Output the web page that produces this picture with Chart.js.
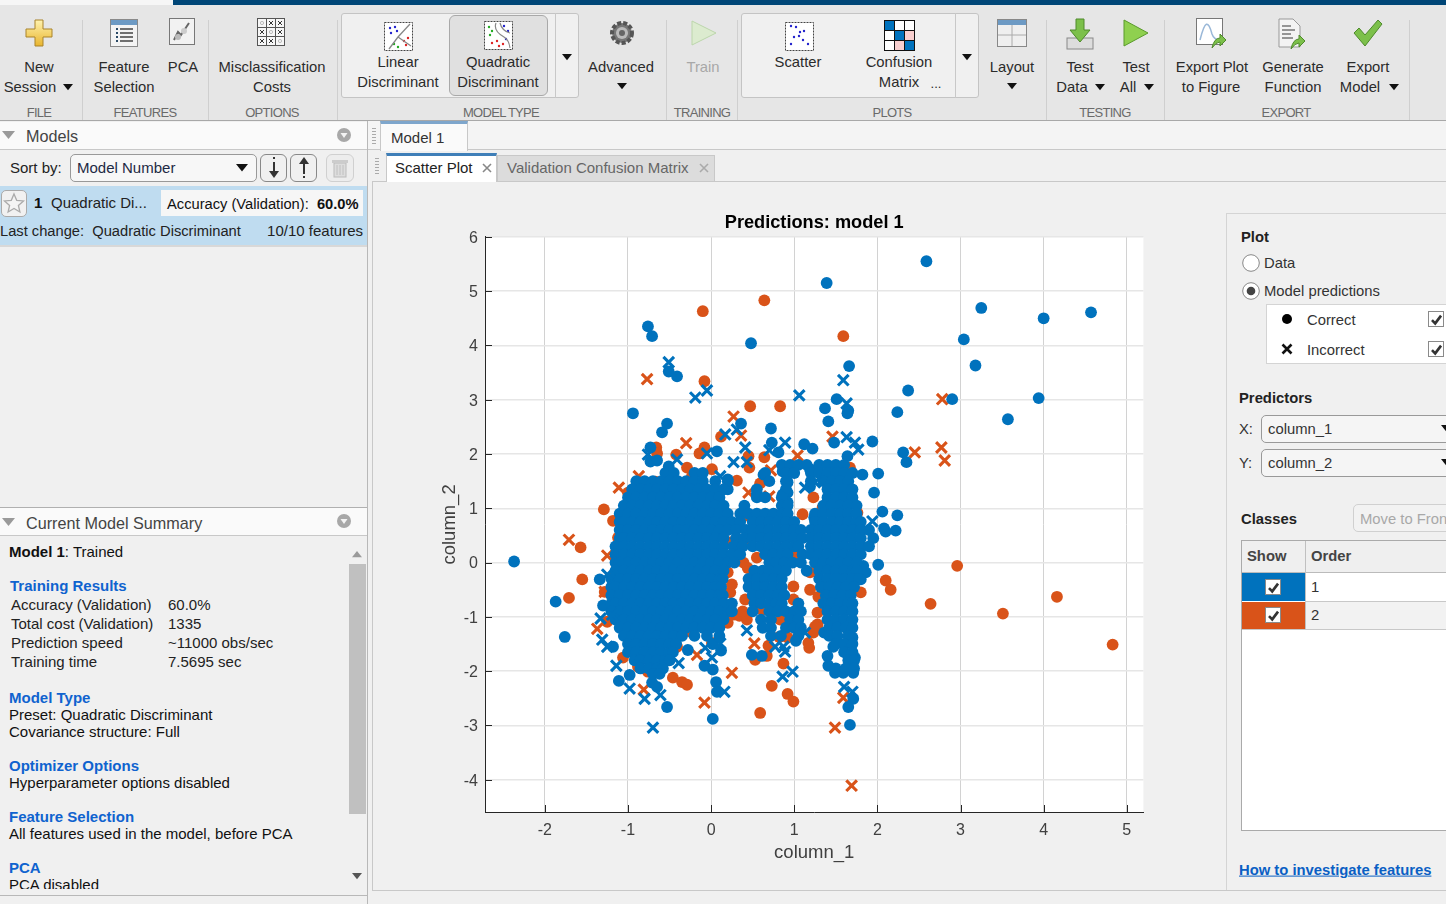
<!DOCTYPE html>
<html><head><meta charset="utf-8">
<script src="https://cdn.jsdelivr.net/npm/chart.js@4"></script>
<style>
html,body{margin:0;padding:0;width:1446px;height:904px;overflow:hidden;background:#f0f0f0;font-family:"Liberation Sans",Arial,sans-serif}
.t{position:absolute;white-space:nowrap;line-height:1}
.b{position:absolute;box-sizing:border-box}
svg{position:absolute;overflow:visible}
canvas{position:absolute;left:430px;top:205px}
</style></head><body>
<div id="ui"></div>
<canvas id="c" width="724" height="667" style="width:724px;height:667px"></canvas>
<script>
/* ---------- chart data (data units) ---------- */
const xAxisTicks=[-2,-1,0,1,2,3,4,5];
const yAxisTicks=[-4,-3,-2,-1,0,1,2,3,4,5,6];
const chartTitle="Predictions: model 1";
const xAxisLabel="column_1";
const yAxisLabel="column_2";

const class1CorrectSingles=[[2.59,5.55],[1.39,5.15],[-.76,4.35],[-.71,4.17],[.48,4.04],[3.25,4.69],[4,4.5],[4.57,4.61],[3.04,4.11],[3.18,3.63],[2.37,3.17],[3.94,3.03],[2.24,2.77],[2.9,3.01],[3.57,2.64],[-.51,3.52],[-.41,3.43],[-.94,2.75],[-.53,2.56],[-.59,2.4],[1.66,3.62],[1.51,3.01],[1.65,2.8],[1.64,2.75],[1.37,2.84],[1.41,2.6],[2.31,2.03],[2.35,1.85],[1.94,2.23],[2.01,1.64],[1.82,1.62],[1.96,1.29],[2.06,.94],[2.24,.87],[2.22,.59],[2.08,.63],[-2.37,.02],[-1.87,-.72],[-1.76,-1.37],[.36,2.56],[.72,2.47],[.73,2.21],[.07,2.05],[.81,2.03],[1.48,2.21],[1.64,1.96],[1.12,2.18],[1.22,2.1],[-.73,2.12],[-.73,1.86],[-.65,1.88],[-.51,1.77],[.2,1.53],[.2,1.35],[.63,1.62],[.55,1.27],[.86,1.68],[.92,1.48],[.92,1.29],[.86,1.25],[.92,1.11],[1.19,1.72],[1.19,1.4],[1.24,.83],[2.1,.57],[2.01,-.04],[1.83,-.06],[1.86,-.18],[1.8,-.31],[-1.34,-.31],[-1.3,-.79],[-1.18,-1.55],[-1.11,-2.18],[-.98,-2.07],[-.71,-2.21],[-.65,-2.29],[-.53,-2.66],[-.28,-1.61],[-.08,-1.9],[.02,-1.97],[.06,-2.2],[.07,-2.38],[.02,-2.88],[.12,-1.62],[.49,-1.7],[.61,-1.72],[1.02,-1.44],[1.36,-1.29],[1.4,-1.72],[1.47,-1.55],[1.41,-1.9],[1.49,-2.03],[1.59,-2.03],[1.65,-1.72],[1.7,-1.85],[1.71,-2.03],[1.73,-1.75],[1.71,-2.51],[1.65,-2.66],[1.67,-2.99],[1.7,-1.38]];

/* dense mass of class 1 points, listed row by row: [column_2, [column_1 values]] */
const class1CorrectRows=[
[1.8,[.85,.95,1.05,1.15,1.3,1.4,1.5,1.6]],
[1.65,[-.55,-.45,-.2,-.1,.65,.9,1,1.2,1.3,1.4,1.5,1.6,1.7]],
[1.5,[-.9,-.8,-.7,-.6,-.5,-.4,-.3,-.2,-.1,.05,.2,.7,.9,1.2,1.35,1.45,1.55,1.65]],
[1.35,[-.95,-.85,-.75,-.65,-.55,-.45,-.35,-.25,-.15,-.05,.05,.15,.55,.9,1.4,1.5,1.6,1.7]],
[1.2,[-1,-.9,-.8,-.7,-.6,-.5,-.4,-.3,-.2,-.1,0,.1,.55,.65,.85,1.4,1.5,1.6,1.7]],
[1.05,[-1.05,-.95,-.85,-.75,-.65,-.55,-.45,-.35,-.25,-.15,-.05,.05,.15,.4,.85,.92,1.35,1.45,1.55,1.65,1.75]],
[.9,[-1.1,-1,-.9,-.8,-.7,-.6,-.5,-.4,-.3,-.2,-.1,0,.1,.2,.35,.45,.55,.65,.75,.85,.92,1.25,1.35,1.45,1.55,1.65,1.75]],
[.75,[-1.1,-1.05,-.95,-.85,-.75,-.65,-.55,-.45,-.35,-.25,-.15,-.05,.05,.15,.25,.35,.5,.6,.7,.8,.9,1,1.25,1.35,1.45,1.55,1.65,1.75,1.8]],
[.6,[-1.1,-1,-.9,-.8,-.7,-.6,-.5,-.4,-.3,-.2,-.1,0,.1,.2,.3,.42,.5,.6,.7,.8,.9,1,1.08,1.2,1.3,1.4,1.5,1.6,1.7,1.8,1.9]],
[.45,[-1.1,-1.05,-.95,-.85,-.75,-.65,-.55,-.45,-.35,-.25,-.15,-.05,.05,.15,.3,.4,.5,.6,.7,.8,.9,1,1.1,1.2,1.3,1.4,1.5,1.6,1.7,1.8,1.95]],
[.3,[-1.15,-1.05,-.95,-.85,-.75,-.65,-.55,-.45,-.35,-.25,-.15,-.05,.05,.15,.27,.38,.5,.6,.7,.8,.9,1,1.05,1.2,1.3,1.4,1.5,1.6,1.7,1.8,1.9]],
[.15,[-1.15,-1.05,-.95,-.85,-.75,-.65,-.55,-.45,-.35,-.25,-.15,-.05,.05,.15,.25,.35,.65,.75,.85,.92,1.1,1.2,1.3,1.4,1.5,1.6,1.7,1.8]],
[0,[-1.15,-1.1,-1,-.9,-.8,-.7,-.6,-.5,-.4,-.3,-.2,-.1,0,.1,.2,.28,.7,.78,.88,.98,1.08,1.25,1.35,1.45,1.55,1.65,1.75]],
[-.15,[-1.15,-1.05,-.95,-.85,-.75,-.65,-.55,-.45,-.35,-.25,-.15,-.05,.05,.15,.52,.62,.7,.8,.9,1.15,1.3,1.4,1.5,1.6,1.7,1.75]],
[-.3,[-1.2,-1.1,-1,-.9,-.8,-.7,-.6,-.5,-.4,-.3,-.2,-.1,0,.1,.14,.45,.55,.65,.75,.85,1.3,1.4,1.5,1.6,1.7,1.78]],
[-.45,[-1.2,-1.15,-1.05,-.95,-.85,-.75,-.65,-.55,-.45,-.35,-.25,-.15,-.05,.05,.12,.45,.55,.65,.75,.85,1.32,1.42,1.52,1.62,1.72]],
[-.6,[-1.2,-1.1,-1,-.9,-.8,-.7,-.6,-.5,-.4,-.3,-.2,-.1,0,.1,.14,.5,.6,.7,.8,.88,1.38,1.48,1.58,1.68]],
[-.75,[-1.2,-1.15,-1.05,-.95,-.85,-.75,-.65,-.55,-.45,-.35,-.25,-.15,-.05,.05,.15,.25,.52,.6,.7,.78,.85,1.05,1.35,1.45,1.55,1.65,1.7]],
[-.9,[-1.2,-1.1,-1,-.9,-.8,-.7,-.6,-.5,-.4,-.3,-.2,-.1,0,.1,.2,.25,.5,.7,.8,.9,1,1.08,1.4,1.5,1.6,1.7]],
[-1.05,[-1.15,-1.05,-.95,-.85,-.75,-.65,-.55,-.45,-.35,-.25,-.15,-.05,.05,.15,.6,.72,.95,1.05,1.4,1.5,1.6,1.7]],
[-1.2,[-1.1,-1,-.9,-.8,-.7,-.6,-.5,-.4,-.3,-.2,-.1,0,.1,.62,.72,.9,1,1.08,1.42,1.52,1.62,1.7]],
[-1.35,[-1.05,-.95,-.85,-.75,-.65,-.55,-.45,-.35,-.2,-.05,.1,.72,.84,1.05,1.42,1.52,1.65]],
[-1.5,[-1,-.9,-.8,-.7,-.6,-.5,-.42,.02,1.5,1.6,1.7]],
[-1.65,[-1,-.9,-.8,-.7,-.6,-.5,-.46,1.6,1.7]],
[-1.8,[-.92,-.85,-.75,-.65,-.55,-.5,1.65,1.72]],
[-1.95,[-.85,-.75,-.65,-.58,1.5,1.62,1.72]],
[-2.05,[-.7,-.62]]
];
const class1IncorrectPoints=[[-.51,3.69],[-.19,3.04],[-.05,3.17],[1.06,3.08],[-.7,-3.04],[1.59,3.36],[1.63,2.93],[1.63,2.31],[1.73,2.21],[1.77,2.08],[.17,2.36],[.31,2.45],[.89,2.21],[.7,2.07],[.41,2.12],[.27,1.85],[.43,1.85],[-.76,1.99],[-.41,1.9],[-.05,2.01],[.11,1.59],[1.13,1.38],[1.25,1.48],[1.94,.76],[-1.25,-.22],[-1.33,-1.03],[-1.19,-.96],[-1.31,-1.42],[-1.25,-1.55],[-1.14,-1.9],[-.98,-2.32],[-.8,-2.51],[-.61,-2.44],[-.39,-1.85],[-.07,-1.57],[.01,-1.75],[.11,-1.49],[.16,-2.38],[.43,-1.25],[.77,-1.55],[.89,-1.64],[.87,-1.55],[.98,-2.01],[.86,-2.1],[1.13,-1.29],[1.6,-2.29],[1.7,-2.38]];
const class2CorrectPoints=[[-.1,4.63],[.64,4.83],[1.59,4.17],[-.08,3.34],[.47,2.88],[.83,2.88],[.12,2.32],[-.66,2.12],[-.65,2.01],[-.42,1.99],[-.08,2.12],[-.14,2.01],[.45,1.96],[.46,1.75],[.64,1.94],[1.67,1.75],[.59,1.46],[-1.29,.98],[-1.18,.77],[1.1,.89],[.31,1.51],[2.96,-.06],[2.64,-.76],[3.51,-.94],[4.16,-.63],[4.83,-1.51],[2.1,-.33],[2.16,-.5],[-1.57,.28],[-1.55,-.31],[-1.71,-.65],[-1.25,-1.09],[-.46,-2.12],[-.35,-2.2],[-.29,-2.25],[.27,-.96],[.34,-.98],[.43,-1.05],[.82,-1.37],[.92,-1.38],[.53,-1.79],[.67,-1.72],[.69,-1.53],[.87,-1.86],[.73,-2.27],[.92,-2.42],[.99,-2.56],[.59,-2.77],[1.18,-1.57],[1.17,-1.48],[1.23,-1.29],[1.28,-1.14],[.39,0],[.55,.09],[.44,-.1],[.2,-.18],[.23,-.55],[.25,-.4],[.13,-.87],[.2,-1.11],[.41,-.68],[.38,-.9],[.61,-.87],[.83,-1.05],[.99,-.44],[.99,-.68],[1.19,-.18],[1.19,-.5],[1.29,-.63],[1.28,-.92],[1.25,-1.18],[1.8,-.55],[.05,1.22],[.02,1.07],[.43,.37],[.27,.66],[.39,.85],[1.34,1.01],[1.01,.15],[1.76,.92],[-.31,1.4],[.29,.65],[.23,.37],[-1,1.29],[-1.01,.7],[-1.12,.46],[-.67,1.49],[-.29,1.75],[.01,1.72],[-.23,1.59],[-1.19,-.26],[-1.28,-.54],[-1.06,-1.75],[-.88,-1.92],[-.76,-2.01],[-.13,-.92],[.17,-.9],[-.41,-1.55],[-.25,-1.27],[.01,-1.48],[1.23,1.2]];
const class2IncorrectPoints=[[-.77,3.38],[-1.71,.42],[2.78,3.01],[2.45,2.03],[2.77,2.12],[2.81,1.88],[1.69,-4.11],[1.49,-3.04],[1.59,-2.49],[-.08,-2.58],[.27,2.69],[.36,2.34],[-.3,2.2],[1.46,2.32],[.72,1.7],[.45,1.29],[.7,1.22],[-1.11,1.38],[-.87,1.59],[-1.25,.13],[-1.28,-.54],[-1.37,-1.22],[-.81,-2.34],[-.17,-1.7],[.25,-2.03],[.52,-1.49],[1.04,1.97]];

const summaryRows=[["Accuracy (Validation)","60.0%"],["Total cost (Validation)","1335"],["Prediction speed","~11000 obs/sec"],["Training time","7.5695 sec"]];

/* ---------- chart ---------- */
const BLUE="#0072bd",ORANGE="#d95319",AXIS="#262626",TICKTXT="#404040";
const pts=a=>a.map(p=>({x:p[0],y:p[1]}));
const class1Mass=[];
class1CorrectRows.forEach(r=>r[1].forEach(x=>class1Mass.push({x:x,y:r[0]})));
const plotBackground={id:"plotBackground",beforeDraw(ch){const a=ch.chartArea;ch.ctx.save();ch.ctx.fillStyle="#fff";ch.ctx.fillRect(a.left,a.top,a.right-a.left,a.bottom-a.top);ch.ctx.restore();}};
const innerTicks={id:"innerTicks",afterDatasetsDraw(ch){
  const g=ch.ctx,a=ch.chartArea,sx=ch.scales.x,sy=ch.scales.y;
  g.save();g.strokeStyle=AXIS;g.lineWidth=1;g.beginPath();
  xAxisTicks.forEach(v=>{const p=Math.round(sx.getPixelForValue(v))+.5;g.moveTo(p,a.bottom);g.lineTo(p,a.bottom-7);});
  yAxisTicks.forEach(v=>{const p=Math.round(sy.getPixelForValue(v))+.5;g.moveTo(a.left,p);g.lineTo(a.left+7,p);});
  g.stroke();g.restore();
}};
new Chart(document.getElementById("c"),{
 type:"scatter",
 data:{datasets:[
  {label:"1 correct",data:pts(class1CorrectSingles).concat(class1Mass),pointStyle:"circle",pointRadius:5.9,backgroundColor:BLUE,borderColor:BLUE,borderWidth:0,order:1},
  {label:"1 incorrect",data:pts(class1IncorrectPoints),pointStyle:"crossRot",pointRadius:7.5,borderColor:BLUE,backgroundColor:BLUE,pointBorderWidth:3.1,order:0},
  {label:"2 correct",data:pts(class2CorrectPoints),pointStyle:"circle",pointRadius:5.9,backgroundColor:ORANGE,borderColor:ORANGE,borderWidth:0,order:3},
  {label:"2 incorrect",data:pts(class2IncorrectPoints),pointStyle:"crossRot",pointRadius:7.5,borderColor:ORANGE,backgroundColor:ORANGE,pointBorderWidth:3.1,order:2}
 ]},
 options:{responsive:false,animation:false,devicePixelRatio:1,
  layout:{padding:{left:0,right:5,top:0,bottom:0}},
  plugins:{legend:{display:false},tooltip:{enabled:false},
   title:{display:true,fullSize:false,text:chartTitle,color:"#000",font:{family:"Liberation Sans",size:18.2,weight:"bold"},padding:{top:7,bottom:3}}},
  scales:{
   x:{type:"linear",min:-2.72,max:5.2,
    afterFit(s){s.height=60;},
    afterBuildTicks(s){s.ticks=xAxisTicks.map(v=>({value:v}));},
    grid:{color:"#d2d2d2",lineWidth:1,drawTicks:false},
    border:{color:AXIS,width:1},
    ticks:{color:TICKTXT,font:{family:"Liberation Sans",size:16},padding:9,maxRotation:0,callback:v=>String(v)},
    title:{display:true,text:xAxisLabel,color:TICKTXT,font:{family:"Liberation Sans",size:18.5},padding:{top:4,bottom:8}}},
   y:{type:"linear",min:-4.594,max:6,
    afterFit(s){s.width=55;},
    afterBuildTicks(s){s.ticks=yAxisTicks.map(v=>({value:v}));},
    grid:{color:"#e6e6e6",lineWidth:1.5,drawTicks:false},
    border:{color:AXIS,width:1},
    ticks:{color:TICKTXT,font:{family:"Liberation Sans",size:16},padding:7,labelOffset:1.5,callback:v=>String(v)},
    title:{display:true,text:yAxisLabel,color:TICKTXT,font:{family:"Liberation Sans",size:18.5},padding:{top:9,bottom:0}}}
  }}
 ,plugins:[plotBackground,innerTicks]});

/* ---------- application chrome ---------- */
const ui=document.getElementById("ui");let h="";
function box(x,y,w,ht,css){h+=`<div class="b" style="left:${x}px;top:${y}px;width:${w}px;height:${ht}px;${css||""}"></div>`;}
function t(s,x,cy,o){o=o||{};const sz=o.s||14.8;const yy=sz>=15?cy-1:cy;const tr=o.a==="c"?"translate(-50%,-50%)":o.a==="r"?"translate(-100%,-50%)":"translate(0,-50%)";
 h+=`<span class="t" style="left:${x}px;top:${yy}px;transform:${tr};font-size:${sz}px;color:${o.c||"#222"};${o.b?"font-weight:bold;":""}${o.x||""}">${s}</span>`;}
function svg(x,y,w,ht,inner){h+=`<svg style="left:${x}px;top:${y}px" width="${w}" height="${ht}" viewBox="0 0 ${w} ${ht}">${inner}</svg>`;}
function tri(cx,cy,w,c,up){const s=w/2,k=w*0.62;svg(cx-s,cy-k/2,w,k,up?`<polygon points="0,${k} ${w},${k} ${s},0" fill="${c||"#111"}"/>`:`<polygon points="0,0 ${w},0 ${s},${k}" fill="${c||"#111"}"/>`);}
function check(cx,cy,s){svg(cx-s/2,cy-s/2,s,s,`<path d="M${s*.15} ${s*.55}L${s*.4} ${s*.8}L${s*.85} ${s*.2}" fill="none" stroke="#333" stroke-width="${s*.2}"/>`);}
function cbox(cx,cy){box(cx-8,cy-8,16,16,"background:#fff;border:1px solid #8a8a8a");check(cx,cy,13);}

/* ribbon */
box(0,0,1446,120,"background:#e6e6e6");
box(0,0,173,5,"background:#f6f6f6");
box(173,0,1273,5,"background:#004677");
box(0,120,1446,1,"background:#a8a8a8");
[82,208,337,666,737,1046,1164,1409].forEach(x=>box(x,20,1,100,"background:#cfcfcf"));
box(341,13,238,85,"background:#f0f0f0;border:1px solid #c4c4c4;border-radius:3px");
box(555,13,1,85,"background:#c8c8c8");
box(449,15,99,81,"background:#e0e0e0;border:1px solid #a9a9a9;border-radius:6px");
box(741,13,238,85,"background:#f0f0f0;border:1px solid #c4c4c4;border-radius:3px");
box(955,13,1,85,"background:#c8c8c8");
tri(567,57,10);tri(967,57,10);
const RC="#2b2b2b",RG="#6a6a6a";
t("New",39,67,{a:"c",c:RC});t("Session",30,87,{a:"c",c:RC});tri(68,87,10);
t("Feature",124,67,{a:"c",c:RC});t("Selection",124,87,{a:"c",c:RC});t("PCA",183,67,{a:"c",c:RC});
t("Misclassification",272,67,{a:"c",c:RC});t("Costs",272,87,{a:"c",c:RC});
t("Linear",398,62,{a:"c",c:RC});t("Discriminant",398,82,{a:"c",c:RC});
t("Quadratic",498,62,{a:"c",c:RC});t("Discriminant",498,82,{a:"c",c:RC});
t("Advanced",621,67,{a:"c",c:RC});tri(622,86,10);
t("Train",703,67,{a:"c",c:"#a8a8a8"});
t("Scatter",798,62,{a:"c",c:RC});t("Confusion",899,62,{a:"c",c:RC});t("Matrix",899,82,{a:"c",c:RC});t("...",936,83,{a:"c",c:RC,s:13});
t("Layout",1012,67,{a:"c",c:RC});tri(1012,86,10);
t("Test",1080,67,{a:"c",c:RC});t("Data",1072,87,{a:"c",c:RC});tri(1100,87,10);
t("Test",1136,67,{a:"c",c:RC});t("All",1128,87,{a:"c",c:RC});tri(1149,87,10);
t("Export Plot",1212,67,{a:"c",c:RC});t("to Figure",1211,87,{a:"c",c:RC});
t("Generate",1293,67,{a:"c",c:RC});t("Function",1293,87,{a:"c",c:RC});
t("Export",1368,67,{a:"c",c:RC});t("Model",1360,87,{a:"c",c:RC});tri(1394,87,10);
[["FILE",39],["FEATURES",145],["OPTIONS",272],["MODEL TYPE",501],["TRAINING",702],["PLOTS",892],["TESTING",1105],["EXPORT",1286]].forEach(p=>t(p[0],p[1],112,{a:"c",c:RG,s:13,x:"letter-spacing:-.7px;"}));

/* ribbon icons */
svg(25,19,28,28,`<defs><linearGradient id="gy" x1="0" y1="0" x2="0" y2="1"><stop offset="0" stop-color="#fff3b0"/><stop offset="1" stop-color="#e9b52e"/></linearGradient></defs><path d="M10 1h8v9h9v8h-9v9h-8v-9H1v-8h9z" fill="url(#gy)" stroke="#a9832a"/>`);
svg(110,19,28,28,`<rect x=".5" y=".5" width="27" height="27" fill="#f4f4f4" stroke="#8a8a8a"/><rect x="1" y="1" width="26" height="5" fill="#6d9ac4"/><path d="M6 10h2M6 14h2M6 18h2M6 22h2" stroke="#2b4a66" stroke-width="2"/><path d="M10 10h13M10 14h13M10 18h13M10 22h13" stroke="#444" stroke-width="1.6"/>`);
svg(169,18,26,27,`<rect x=".5" y=".5" width="25" height="26" fill="#f2f2f2" stroke="#777"/><path d="M5 22L9 14L12 17L20 5" fill="none" stroke="#666" stroke-width="2"/><circle cx="9" cy="19" r="3" fill="#bbb"/><circle cx="15" cy="13" r="3" fill="#ccc"/>`);
{let g='';for(let i=0;i<3;i++)for(let j=0;j<3;j++){g+=`<rect x="${.5+i*9}" y="${.5+j*9}" width="9" height="9" fill="#f6f6f6" stroke="#555"/>`+(i===j?`<circle cx="${5+i*9}" cy="${5+j*9}" r="1.6" fill="none" stroke="#bbb"/>`:`<path d="M${3+i*9} ${3+j*9}l4 4m0 -4l-4 4" stroke="#333"/>`);}svg(257,18,28,28,g);}
function disc(x,y,dots,extra){let g=`<rect x=".5" y=".5" width="28" height="28" fill="#fff" stroke="#444" stroke-dasharray="2 1"/>`;dots.forEach(d=>g+=`<circle cx="${d[0]}" cy="${d[1]}" r="1.2" fill="${d[2]}"/>`);svg(x,y,29,29,g+extra);}
disc(384,22,[[6,6,"#22c"],[11,5,"#22c"],[7,11,"#22c"],[13,9,"#22c"],[20,19,"#d22"],[24,16,"#d22"],[22,23,"#d22"],[10,22,"#2a2"],[14,25,"#2a2"]],`<path d="M26 2L14 15L5 27M14 15L27 24" fill="none" stroke="#888" stroke-width="1.3"/>`);
disc(484,21,[[5,6,"#2a2"],[8,10,"#2a2"],[6,14,"#2a2"],[20,5,"#22c"],[24,10,"#22c"],[22,18,"#22c"],[8,22,"#d22"],[13,20,"#d22"],[15,25,"#d22"],[19,23,"#d22"]],`<path d="M12 2Q9 10 20 16Q25 19 26 27M16 2Q18 10 26 12" fill="none" stroke="#888" stroke-width="1.2"/>`);
svg(608,19,28,28,`<circle cx="14" cy="14" r="10" fill="#777" stroke="#555" stroke-width="4" stroke-dasharray="4 2"/><circle cx="14" cy="14" r="6" fill="#bbb"/><circle cx="14" cy="14" r="3" fill="#666"/>`);
svg(691,20,26,26,`<polygon points="1,1 25,13 1,25" fill="#dcebcf" stroke="#bcd6ab"/>`);
disc(785,22,[[6,4,"#22c"],[11,5,"#22c"],[15,10,"#22c"],[19,9,"#22c"],[14,14,"#22c"],[18,18,"#22c"],[6,22,"#22c"],[23,22,"#22c"],[9,15,"#22c"]],'');
{const c=["#0072bd","#fff","#fff","#fff","#0072bd","#f8cfcf","#fff","#f8cfcf","#0072bd"];let g='';c.forEach((f,i)=>g+=`<rect x="${.5+(i%3)*10}" y="${.5+Math.floor(i/3)*10}" width="10" height="10" fill="${f}" stroke="#111"/>`);svg(884,20,31,31,g);}
svg(997,19,30,28,`<rect x=".5" y=".5" width="29" height="27" fill="#efefef" stroke="#888"/><rect x="1" y="1" width="28" height="5" fill="#6d9ac4"/><path d="M15 6v21M1 16h28" stroke="#aaa"/>`);
svg(1066,18,28,32,`<rect x="1" y="20" width="26" height="11" fill="#ddd" stroke="#888"/><path d="M10 1h8v11h6L14 24L4 12h6z" fill="#7cc04a" stroke="#4e8a2b"/>`);
svg(1123,19,26,28,`<polygon points="1,1 25,14 1,27" fill="#8fd04f" stroke="#5a9a2c"/>`);
svg(1196,18,30,32,`<rect x=".5" y=".5" width="26" height="26" fill="#fff" stroke="#777"/><path d="M4 22C9 2 12 2 16 16Q18 22 24 22" fill="none" stroke="#9ab8d8" stroke-width="1.5"/><path d="M16 30Q18 20 24 20v-4l6 6l-6 6v-4q-4 0-8 6z" fill="#7cc04a" stroke="#4e8a2b"/>`);
svg(1278,18,30,32,`<path d="M1 1h14l7 7v21H1z" fill="#f3f3f3" stroke="#999"/><path d="M4 8h9M4 12h13M4 16h9M4 20h11" stroke="#777" stroke-width="1.5"/><path d="M13 31Q15 21 21 21v-4l6 6l-6 6v-4q-4 0-8 6z" fill="#7cc04a" stroke="#4e8a2b"/>`);
svg(1353,19,30,28,`<path d="M1 14L6 9L12 16L25 1L29 5L12 27z" fill="#7cc04a" stroke="#4e8a2b"/>`);

/* left column */
const LS=15;
box(0,121,368,783,"background:#f0f0f0");
box(367,121,1,783,"background:#b8b8b8");
box(0,122,367,28,"background:#fafafa");box(0,149,367,1,"background:#c8c8c8");
tri(8,135,13,"#9a9a9a");
t("Models",26,137,{s:16.2,c:"#444"});
function grayDot(cx,cy){svg(cx-7,cy-7,14,14,`<circle cx="7" cy="7" r="7" fill="#a8a8a8"/><polygon points="3.5,5 10.5,5 7,10" fill="#f4f4f4"/>`);}
grayDot(344,135);
t("Sort by:",10,168,{s:LS,c:"#222"});
box(70,154,187,28,"background:#f7f7f7;border:1px solid #999;border-radius:5px");
t("Model Number",77,168,{s:LS,c:"#1d2a44"});tri(242,168,12);
box(260,154,27,28,"background:#f0f0f0;border:1px solid #888;border-radius:6px");
box(290,154,27,28,"background:#f0f0f0;border:1px solid #888;border-radius:6px");
box(326,154,28,28,"background:#ededed;border:1px solid #d0d0d0;border-radius:6px");
svg(266,157,16,22,`<path d="M7 0h2v2H7zM7 5h2v10H7z" fill="#333"/><polygon points="3,14 13,14 8,21" fill="#333"/>`);
svg(296,157,16,22,`<polygon points="3,7 13,7 8,0" fill="#333"/><path d="M7 7h2v10H7zM7 19h2v2H7z" fill="#333"/>`);
svg(332,158,16,20,`<rect x="2" y="5" width="12" height="14" fill="#ddd" stroke="#bbb"/><rect x="0" y="2" width="16" height="3" fill="#ccc"/><path d="M5 7v10M8 7v10M11 7v10" stroke="#c0c0c0"/>`);
box(0,186,367,61,"background:#bfdcf0;border-bottom:2px solid #d8d8d8");
box(1,190,26,27,"background:#f1f1f1;border:1px solid #aaa;border-radius:5px");
svg(4,193,20,20,`<polygon points="10,1 12.7,7.3 19.5,7.9 14.4,12.4 15.9,19 10,15.5 4.1,19 5.6,12.4 .5,7.9 7.3,7.3" fill="#f4f4f4" stroke="#aaa" stroke-width="1.3"/>`);
t("1",34,203,{b:1,s:LS,c:"#111"});
t("Quadratic Di...",51,203,{s:LS,c:"#222"});
box(161,190,202,26,"background:#f6f6f6");
t("Accuracy (Validation):&nbsp; <b>60.0%</b>",167,204,{s:14.7,c:"#111"});
t("Last change: &nbsp;Quadratic Discriminant",0,231,{s:14.7,c:"#222"});
t("10/10 features",363,231,{a:"r",s:LS,c:"#222"});
box(0,507,367,1,"background:#b0b0b0");
box(0,508,367,27,"background:#fafafa");box(0,535,367,1,"background:#c8c8c8");
tri(8,522,13,"#9a9a9a");
t("Current Model Summary",26,524,{s:16.2,c:"#444"});grayDot(344,521);
t("<b>Model 1</b>: Trained",9,552,{s:LS,c:"#111"});
const LINK="#0f63cf";
t("Training Results",10,586,{b:1,c:LINK,s:LS});
summaryRows.forEach((r,i)=>{const y=605+i*19;t(r[0],11,y,{s:LS,c:"#222"});t(r[1],168,y,{s:LS,c:"#222"});});
t("Model Type",9,698,{b:1,c:LINK,s:LS});
t("Preset: Quadratic Discriminant",9,715,{s:LS,c:"#111"});
t("Covariance structure: Full",9,732,{s:LS,c:"#111"});
t("Optimizer Options",9,766,{b:1,c:LINK,s:LS});
t("Hyperparameter options disabled",9,783,{s:LS,c:"#111"});
t("Feature Selection",9,817,{b:1,c:LINK,s:LS});
t("All features used in the model, before PCA",9,834,{s:LS,c:"#111"});
t("PCA",9,868,{b:1,c:LINK,s:LS});
t("PCA disabled",9,885,{s:LS,c:"#111"});
box(0,889,349,6,"background:#f0f0f0");
box(0,895,367,1,"background:#b8b8b8");
box(349,564,17,250,"background:#c0c0c0");
tri(357,554,10,"#9a9a9a",true);tri(357,876,10,"#555");

/* centre */
box(368,121,1078,29,"background:#f4f4f4;border-bottom:1px solid #c8c8c8");
box(372,128,4,16,"background:repeating-linear-gradient(#aaa 0 1px,transparent 1px 3px)");
box(380,121,88,30,"background:#fafafa;border-left:1px solid #c8c8c8;border-right:1px solid #c8c8c8;border-top:3px solid #7ea6cc");
t("Model 1",391,138,{s:LS,c:"#333"});
box(372,151,1074,31,"background:#f0f0f0;border-bottom:1px solid #c8c8c8");
box(375,158,4,16,"background:repeating-linear-gradient(#aaa 0 1px,transparent 1px 3px)");
box(386,153,111,29,"background:#fff;border-top:3px solid #3f7fb8;border-left:1px solid #c8c8c8;border-right:1px solid #c8c8c8");
t("Scatter Plot",395,168,{s:LS,c:"#222"});
box(497,155,218,27,"background:#dcdcdc;border:1px solid #c8c8c8");
t("Validation Confusion Matrix",507,168,{s:LS,c:"#666"});
function close(cx,cy,c){svg(cx-5,cy-5,10,10,`<path d="M1 1l8 8m0-8l-8 8" stroke="${c}" stroke-width="1.6"/>`);}
close(487,168,"#888");close(704,168,"#aaa");
box(372,182,1,708,"background:#c8c8c8");
box(372,890,1074,1,"background:#c8c8c8");

/* right panel */
box(1226,213,1,677,"background:#d4d4d4");box(1226,213,220,1,"background:#d4d4d4");
const RT="#333";
t("Plot",1241,237,{b:1,c:"#222"});
svg(1242,254,18,18,`<circle cx="9" cy="9" r="8.3" fill="#fff" stroke="#888"/>`);t("Data",1264,263,{c:RT});
svg(1242,282,18,18,`<circle cx="9" cy="9" r="8.3" fill="#fff" stroke="#888"/><circle cx="9" cy="9" r="4.3" fill="#444"/>`);t("Model predictions",1264,291,{c:RT});
box(1266,304,180,60,"background:#fff;border:1px solid #d4d4d4;border-right:0");
svg(1281,313,12,12,`<circle cx="6" cy="6" r="5" fill="#000"/>`);t("Correct",1307,320,{c:RT});
svg(1281,343,12,12,`<path d="M1.5 1.5l9 9m0-9l-9 9" stroke="#111" stroke-width="2.6"/>`);t("Incorrect",1307,350,{c:RT});
cbox(1436,319);cbox(1436,349);
t("Predictors",1239,398,{b:1,c:"#222"});
t("X:",1239,429,{c:RT});t("Y:",1239,463,{c:RT});
box(1261,415,200,28,"background:#f5f5f5;border:1px solid #999;border-radius:5px");
box(1261,449,200,28,"background:#f5f5f5;border:1px solid #999;border-radius:5px");
t("column_1",1268,429,{c:RT});t("column_2",1268,463,{c:RT});tri(1447,429,12);tri(1447,463,12);
t("Classes",1241,519,{b:1,c:"#222"});
box(1353,504,110,28,"background:#f2f2f2;border:1px solid #d0d0d0;border-radius:5px");
t("Move to Front",1360,519,{c:"#a8a8a8"});
box(1241,540,205,291,"background:#fff;border:1px solid #aaa;border-right:0");
box(1242,541,204,32,"background:#efefef;border-bottom:1px solid #bbb");
box(1305,541,1,60,"background:#c0c0c0");
t("Show",1247,556,{b:1,c:"#444"});t("Order",1311,556,{b:1,c:"#444"});
box(1242,573,63,28,"background:"+BLUE);box(1242,602,63,27,"background:"+ORANGE);
box(1305,602,141,27,"background:#f2f2f2");box(1305,601,141,1,"background:#c8c8c8");box(1242,629,204,1,"background:#c8c8c8");
box(1305,602,1,27,"background:#c0c0c0");
cbox(1273,587);cbox(1273,615);
t("1",1311,587,{c:RT});t("2",1311,615,{c:RT});
t("How to investigate features",1239,870,{b:1,c:"#0a5fc4",x:"text-decoration:underline;"});
ui.innerHTML=h;
</script>
</body></html>
